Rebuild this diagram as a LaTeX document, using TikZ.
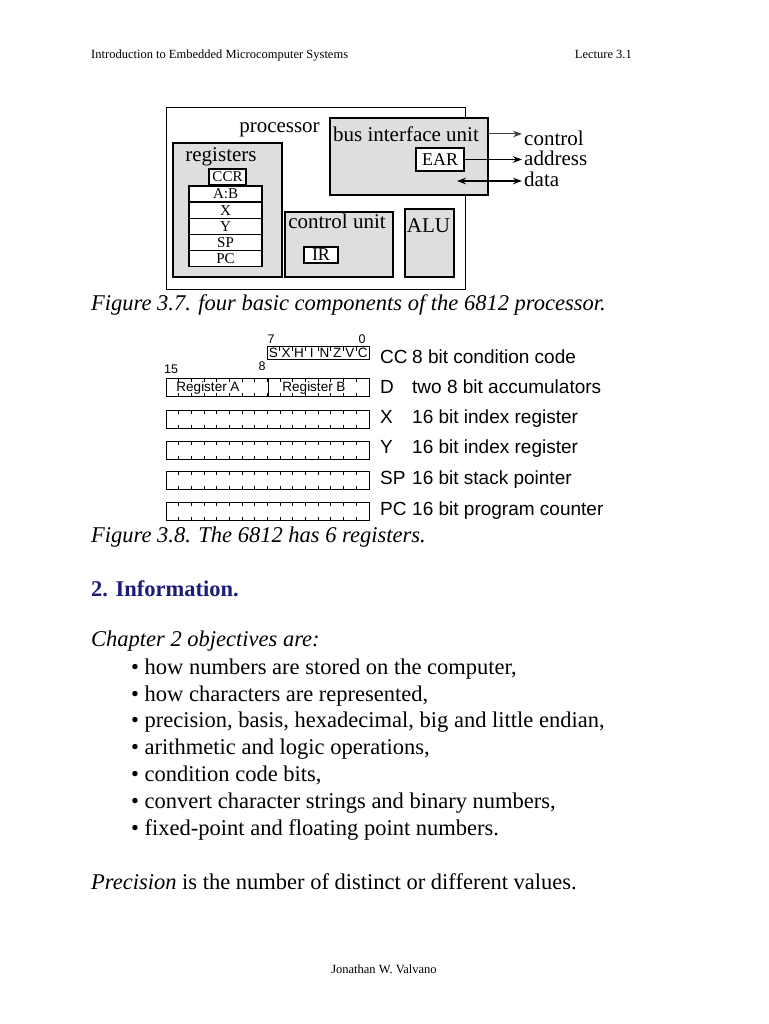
\documentclass[tikz,border=0pt]{standalone}
\usepackage{fontspec}
\setmainfont{Liberation Serif}
\newfontfamily\sansf{Liberation Sans}
\usetikzlibrary{arrows.meta}
\definecolor{boxgray}{RGB}{222,222,222}
\definecolor{headblue}{RGB}{28,28,122}
\newcommand\fsz[1]{\fontsize{#1}{#1}\selectfont}
\begin{document}
\begin{tikzpicture}[x=1pt,y=-1pt,
  graybox/.style={draw, line width=1.8pt, fill=boxgray, inner sep=0pt, anchor=north west},
  whitebox/.style={draw, line width=1.3pt, fill=white, inner sep=0pt, font=\fsz{15}},
  lbl/.style={inner sep=0pt, font=\fsz{21}},
  regbox/.style={draw, line width=1.2pt, inner sep=0pt, anchor=north west},
  tick/.style={line width=1pt},
  small/.style={inner sep=0pt, font=\sansf\fsz{12.5}},
  reglbl/.style={inner sep=0pt, font=\sansf\fsz{19}, anchor=base west},
  body/.style={inner sep=0pt, font=\fsz{22.5}, anchor=mid west},
  arr/.style={line width=1.4pt, -{Stealth[length=9pt,width=6.5pt]}},
  darr/.style={line width=1.4pt, {Stealth[length=9pt,width=6.5pt]}-{Stealth[length=9pt,width=6.5pt]}}
]
\useasboundingbox (0,0) rectangle (768,1024);
\fill[white] (0,0) rectangle (768,1024);

% header / footer
\node[inner sep=0pt, font=\fsz{12.5}, anchor=mid west] (hdr) at (91,56) {Introduction to Embedded Microcomputer Systems};
\node[inner sep=0pt, font=\fsz{12.5}, anchor=mid east] (lec) at (632,56) {Lecture 3.1};
\node[inner sep=0pt, font=\fsz{12.5}, anchor=mid] (ftr) at (384,971) {Jonathan W. Valvano};

% ---------- Figure 3.7 ----------
\node[draw, line width=1.2pt, minimum width=299pt, minimum height=182pt, anchor=north west, inner sep=0pt] (proc) at (166,107) {};
\node[lbl, anchor=base] (proct) at (279.5,133) {processor};

\node[graybox, minimum width=109pt, minimum height=134pt] (regs) at (172,142) {};
\node[lbl, anchor=base] (regt) at (221,162) {registers};
\node[whitebox, minimum width=37pt, minimum height=16pt] (ccr) at (227.5,177) {CCR};
\foreach \r [count=\i from 0] in {A:B,X,Y,SP,PC}
  \node[whitebox, minimum width=73pt, minimum height=16.1pt] (st\i) at (225.5,194.05+16.1*\i) {\r};

\node[graybox, minimum width=108pt, minimum height=65pt] (cu) at (284,211) {};
\node[lbl, anchor=base] (cut) at (337,229) {control unit};
\node[whitebox, minimum width=34pt, minimum height=16pt, font=\fsz{18}] (ir) at (321,255) {IR};

\node[graybox, minimum width=49pt, minimum height=68pt] (alu) at (404,208) {};
\node[lbl, anchor=base] (alut) at (428.5,233) {ALU};

\node[graybox, minimum width=158pt, minimum height=77pt] (biu) at (329,117) {};
\node[lbl, anchor=base] (biut) at (406,142) {bus interface unit};
\node[whitebox, minimum width=48pt, minimum height=23pt, font=\fsz{18}] (ear) at (440,159.5) {EAR};

\coordinate (cend) at (522,134);
\coordinate (aend) at (522,157);
\coordinate (dbeg) at (457,181);
\coordinate (dend) at (522,181);
\draw[arr, line width=1pt, draw=black!75] (biu.east |- cend) -- (cend);
\draw[arr] (ear.east) -- (ear.east -| aend);
\draw[darr] (dbeg) -- (dend);
\node[lbl, anchor=base west] (lc) at (524,146) {control};
\node[lbl, anchor=base west] (la) at (524,166) {address};
\node[lbl, anchor=base west] (ld) at (524,187) {data};

\node[inner sep=0pt, font=\fsz{22.5}\itshape, anchor=mid west] (cap1) at (91,308) {Figure 3.7. four basic components of the 6812 processor.};

% ---------- Figure 3.8 ----------
\node[small] (b7) at (271,339) {7};
\node[small] (b0) at (362,339) {0};
\node[small] (b15) at (171,369) {15};
\node[small] (b8) at (262,366) {8};

\node[regbox, minimum width=102pt, minimum height=13pt] (rCC) at (267,346) {};
\foreach \l [count=\i] in {S,X,H,I,N,Z,V,C}
  \node[small, font=\sansf\fsz{13.5}] (cc\i) at (267+12.75*\i-6.375,353) {\l};
\foreach \k in {1,...,7}
  \draw[tick] (267+12.75*\k,346) -- ++(0,4.5);

\foreach \n/\t in {D/378,X/410,Y/441,SP/471,PC/502}{
  \node[regbox, minimum width=203pt, minimum height=18pt] (r\n) at (166,\t) {};
  \foreach \k in {1,...,15}{
    \draw[tick] (166+12.6875*\k,\t) -- ++(0,3.5);
    \draw[tick] (166+12.6875*\k,\t+18) -- ++(0,-3.5);
  }
}
\draw[tick] (rD.north) -- (rD.south);
\node[inner sep=0pt, font=\sansf\fsz{13.5}] (ra) at (208,388) {Register A};
\node[inner sep=0pt, font=\sansf\fsz{13.5}] (rb) at (314,388) {Register B};

\foreach \n/\b/\d in {CC/363/8 bit condition code, D/393/two 8 bit accumulators, X/423/16 bit index register, Y/453/16 bit index register, SP/484/16 bit stack pointer, PC/515/16 bit program counter}{
  \node[reglbl] (n\n) at (380,\b) {\n};
  \node[reglbl] (d\n) at (412,\b) {\d};
}

\node[inner sep=0pt, font=\fsz{22.5}\itshape, anchor=mid west] (cap2) at (91,540) {Figure 3.8. The 6812 has 6 registers.};

% ---------- text ----------
\node[body, font=\fsz{22.5}\bfseries, text=headblue] (sec) at (91,594) {2. Information.};
\node[body] (ch) at (91,644) {\textit{Chapter 2 objectives are:}};
\foreach \t [count=\i from 0] in {how numbers are stored on the computer{,},
  how characters are represented{,},
  precision{,} basis{,} hexadecimal{,} big and little endian{,},
  arithmetic and logic operations{,},
  condition code bits{,},
  convert character strings and binary numbers{,},
  fixed-point and floating point numbers.}
  \node[body] (bl\i) at (131,672+26.8*\i) {• \t};
\node[body] (prec) at (91,887) {\textit{Precision} is the number of distinct or different values.};
\end{tikzpicture}
\end{document}
